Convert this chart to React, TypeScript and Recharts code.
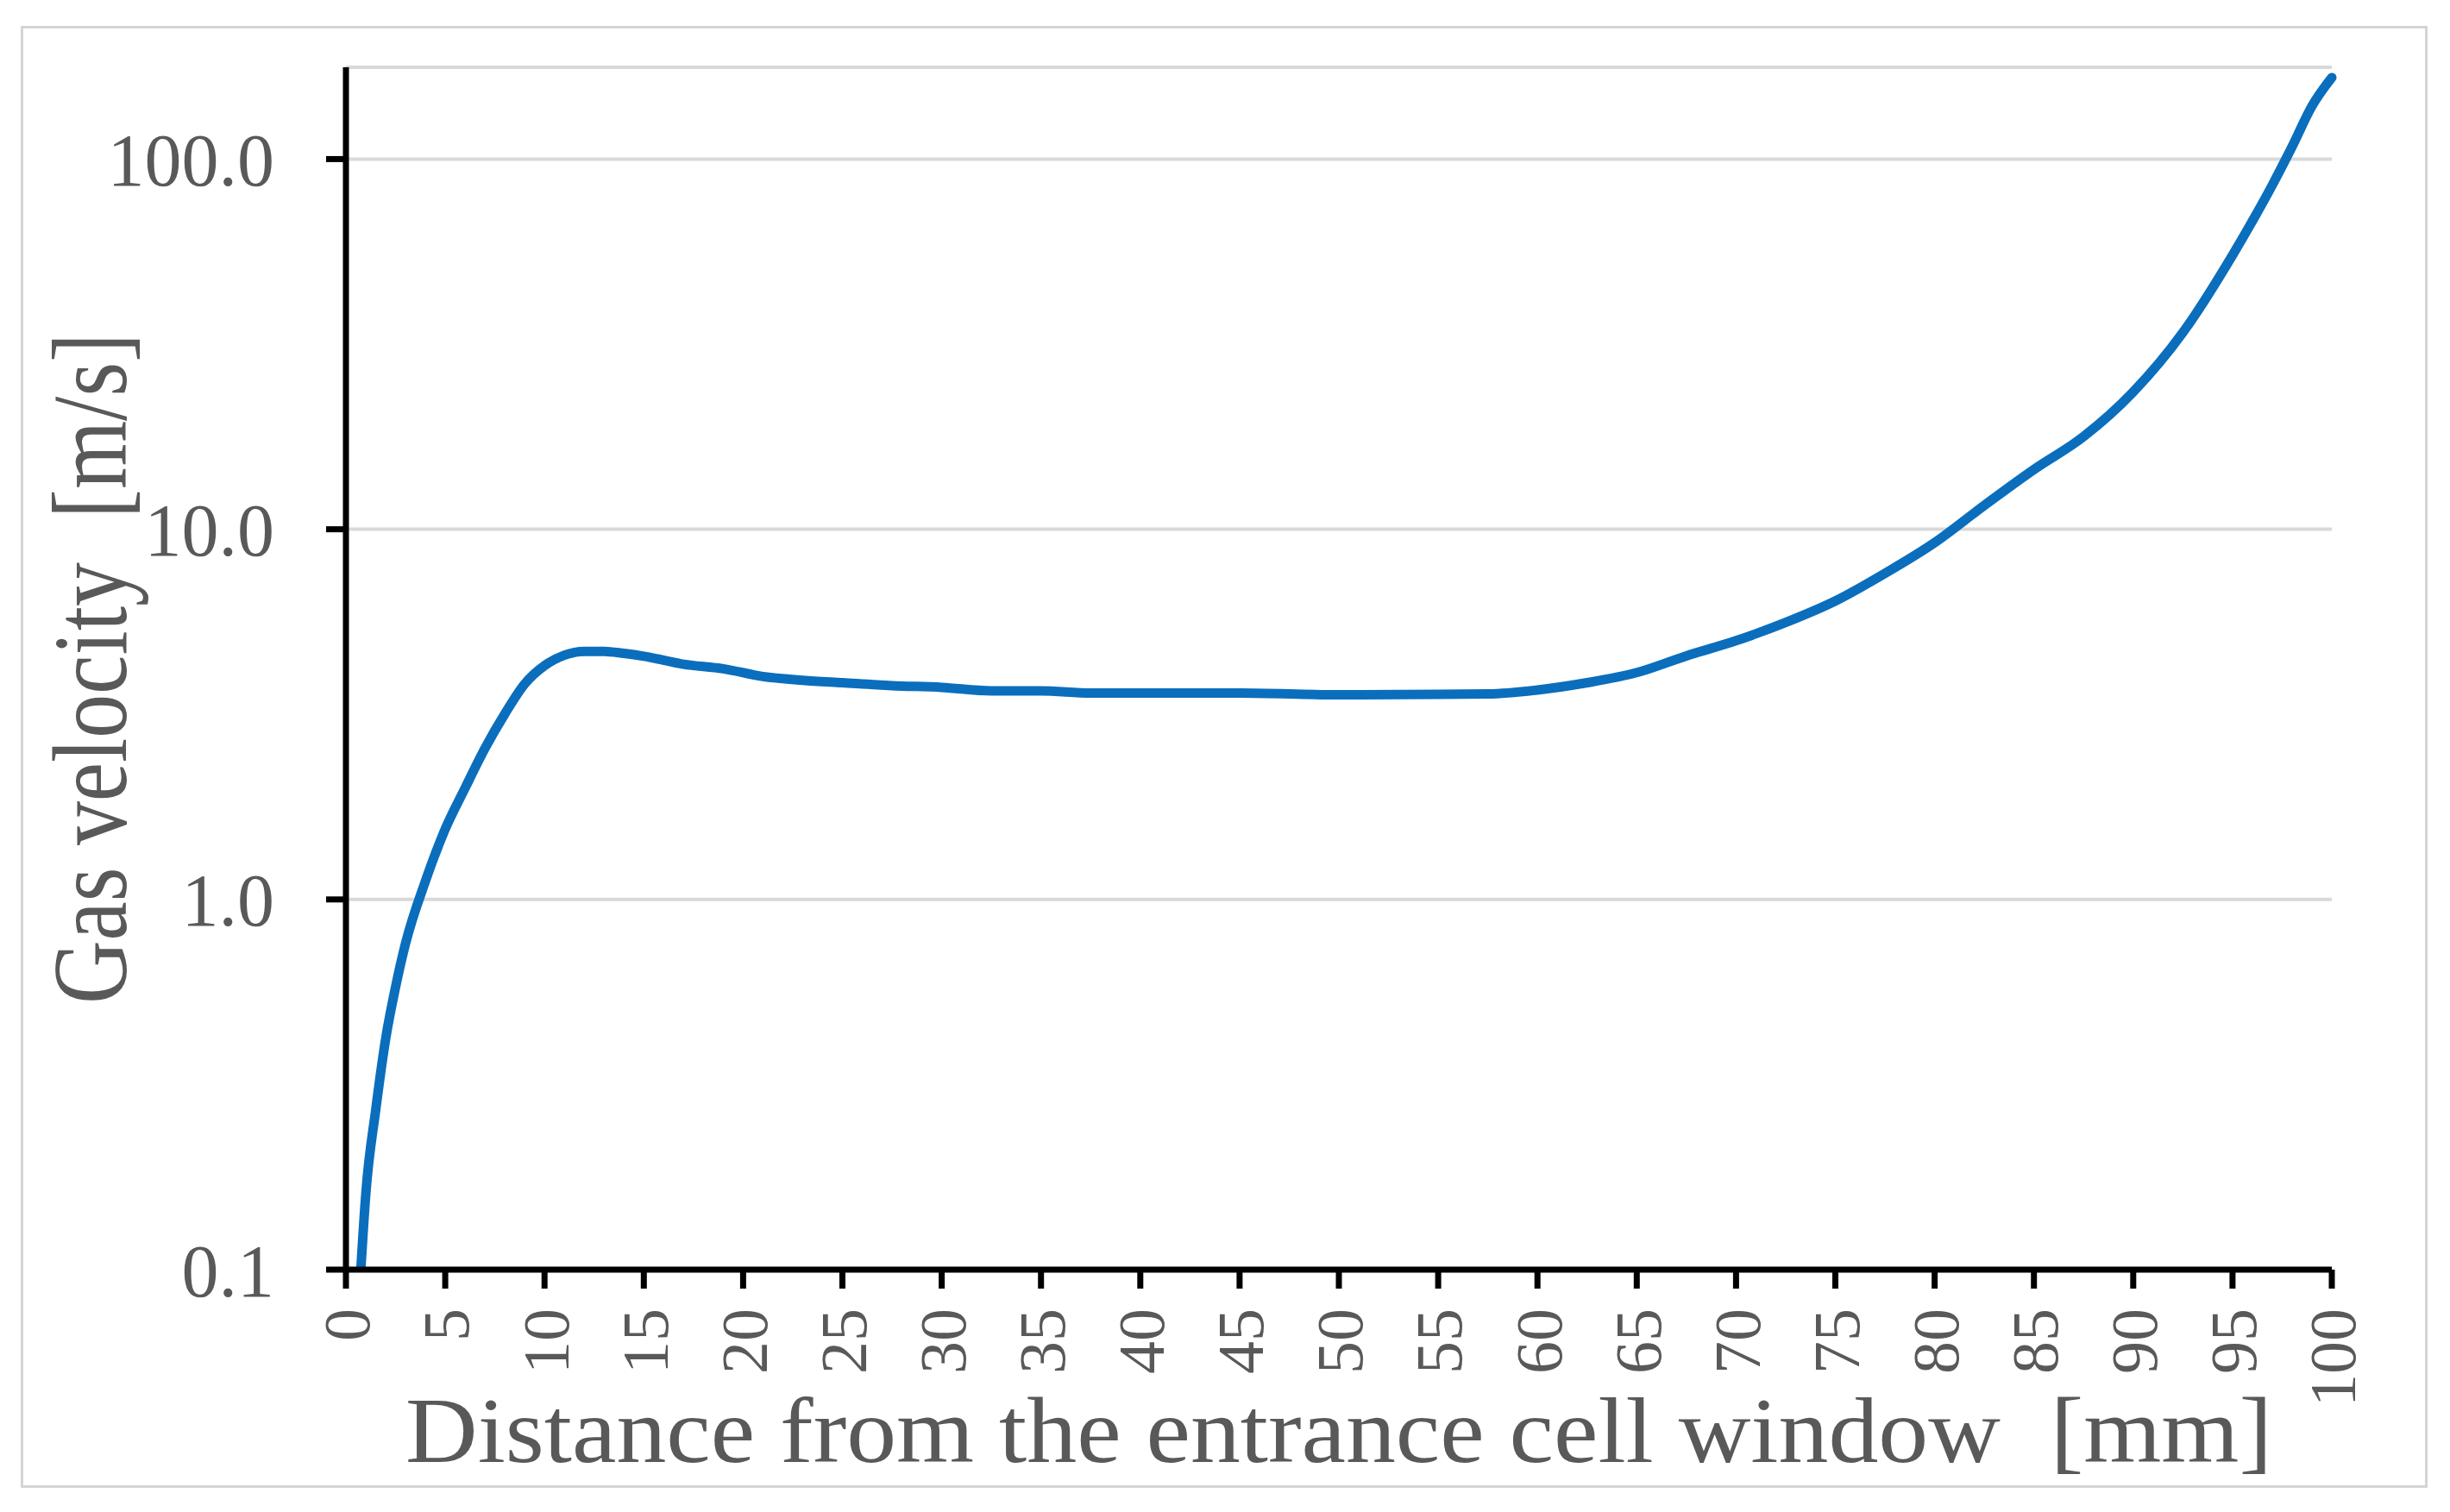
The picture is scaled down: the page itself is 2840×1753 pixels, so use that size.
import React from 'react';
import { LineChart, Line, XAxis, YAxis, CartesianGrid } from 'recharts';

// Data
const DISTANCE_MM = [0.75, 1, 1.5, 2, 2.5, 3, 4, 5, 6, 7, 8, 9, 10, 11, 12, 13, 14, 15, 17, 19, 21, 23, 25, 27.5, 30, 32.5, 35, 37.5, 40, 45, 50, 55, 57.5, 60, 62.5, 65, 67.5, 70, 72.5, 75, 77.5, 80, 82.5, 85, 87.5, 90, 92.5, 95, 96, 97, 98, 99, 100];
const GAS_VELOCITY = [0.1, 0.16, 0.27, 0.42, 0.58, 0.76, 1.12, 1.55, 2.0, 2.56, 3.17, 3.82, 4.28, 4.57, 4.68, 4.68, 4.62, 4.54, 4.32, 4.2, 4.0, 3.91, 3.85, 3.78, 3.74, 3.66, 3.66, 3.61, 3.61, 3.61, 3.57, 3.58, 3.59, 3.68, 3.85, 4.1, 4.55, 5.0, 5.6, 6.4, 7.6, 9.2, 11.6, 14.5, 17.8, 23.5, 34, 55, 68, 85, 108, 139, 166];
const X_TICKS = [0, 5, 10, 15, 20, 25, 30, 35, 40, 45, 50, 55, 60, 65, 70, 75, 80, 85, 90, 95, 100];
const Y_TICKS = [0.1, 1, 10, 100];
const X_TITLE = 'Distance from the entrance cell window  [mm]';
const Y_TITLE = 'Gas velocity  [m/s]';

const data = DISTANCE_MM.map((d, i) => ({ d, v: GAS_VELOCITY[i] }));

const W = 2840;
const H = 1753;
const FONT = '"Liberation Serif", "Times New Roman", serif';
const TEXT = '#595959';

const XTick = (props: any) => {
  const { x, y, payload } = props;
  return (
    <g transform={`translate(${x},${y})`}>
      <text
        x={0}
        y={0}
        dy="0.36em"
        textAnchor="end"
        transform="rotate(-90)"
        fontSize={76}
        fontFamily={FONT}
        fill={TEXT}
      >
        {payload.value}
      </text>
    </g>
  );
};

const XTitle = (props: any) => {
  const vb = props.viewBox || { x: 401, y: 1472, width: 2302, height: 281 };
  const cx = vb.x + vb.width / 2;
  return (
    <text
      x={cx}
      y={vb.y + 223}
      textAnchor="middle"
      fontSize={108}
      fontFamily={FONT}
      fill={TEXT}
      xmlSpace="preserve"
      style={{ whiteSpace: 'pre' }}
      textLength={2164}
      lengthAdjust="spacingAndGlyphs"
    >
      {X_TITLE}
    </text>
  );
};

const YTitle = (props: any) => {
  const vb = props.viewBox || { x: 0, y: 78, width: 401, height: 1394 };
  const cy = vb.y + vb.height / 2;
  const bx = 146;
  return (
    <text
      x={bx}
      y={cy}
      transform={`rotate(-90, ${bx}, ${cy})`}
      textAnchor="middle"
      fontSize={122}
      fontFamily={FONT}
      fill={TEXT}
      xmlSpace="preserve"
      style={{ whiteSpace: 'pre' }}
      textLength={778}
      lengthAdjust="spacingAndGlyphs"
    >
      {Y_TITLE}
    </text>
  );
};

export default function App() {
  return (
    <div style={{ position: 'absolute', left: 0, top: 0, width: W, height: H, background: '#ffffff', overflow: 'hidden' }}>
      <div
        style={{
          position: 'absolute',
          left: 24,
          top: 30,
          width: 2790,
          height: 1695,
          border: '3px solid #d4d4d4',
          boxSizing: 'border-box',
        }}
      />
      <div style={{ position: 'absolute', left: 0, top: 0 }}>
        <LineChart width={W} height={H} data={data} margin={{ top: 78, right: 137, bottom: 0, left: 0 }}>
          <CartesianGrid horizontal vertical={false} stroke="#d9d9d9" strokeWidth={4} />
          <XAxis
            dataKey="d"
            type="number"
            domain={[0, 100]}
            ticks={X_TICKS}
            interval={0}
            height={281}
            axisLine={{ stroke: '#000', strokeWidth: 7 }}
            tickLine={{ stroke: '#000', strokeWidth: 7 }}
            tickSize={22}
            tickMargin={23}
            tick={<XTick />}
            label={<XTitle />}
          />
          <YAxis
            dataKey="v"
            type="number"
            scale="log"
            domain={[0.1, 177]}
            allowDataOverflow
            ticks={Y_TICKS}
            interval={0}
            width={401}
            axisLine={{ stroke: '#000', strokeWidth: 7 }}
            tickLine={{ stroke: '#000', strokeWidth: 7 }}
            tickSize={23}
            tickMargin={60}
            tick={{ fill: TEXT, fontSize: 86, fontFamily: FONT }}
            tickFormatter={(v: number) => v.toFixed(1)}
            label={<YTitle />}
          />
          <Line
            type="monotone"
            dataKey="v"
            stroke="#0a6ebd"
            strokeWidth={11}
            dot={false}
            activeDot={false}
            isAnimationActive={false}
            strokeLinecap="round"
          />
        </LineChart>
      </div>
    </div>
  );
}
